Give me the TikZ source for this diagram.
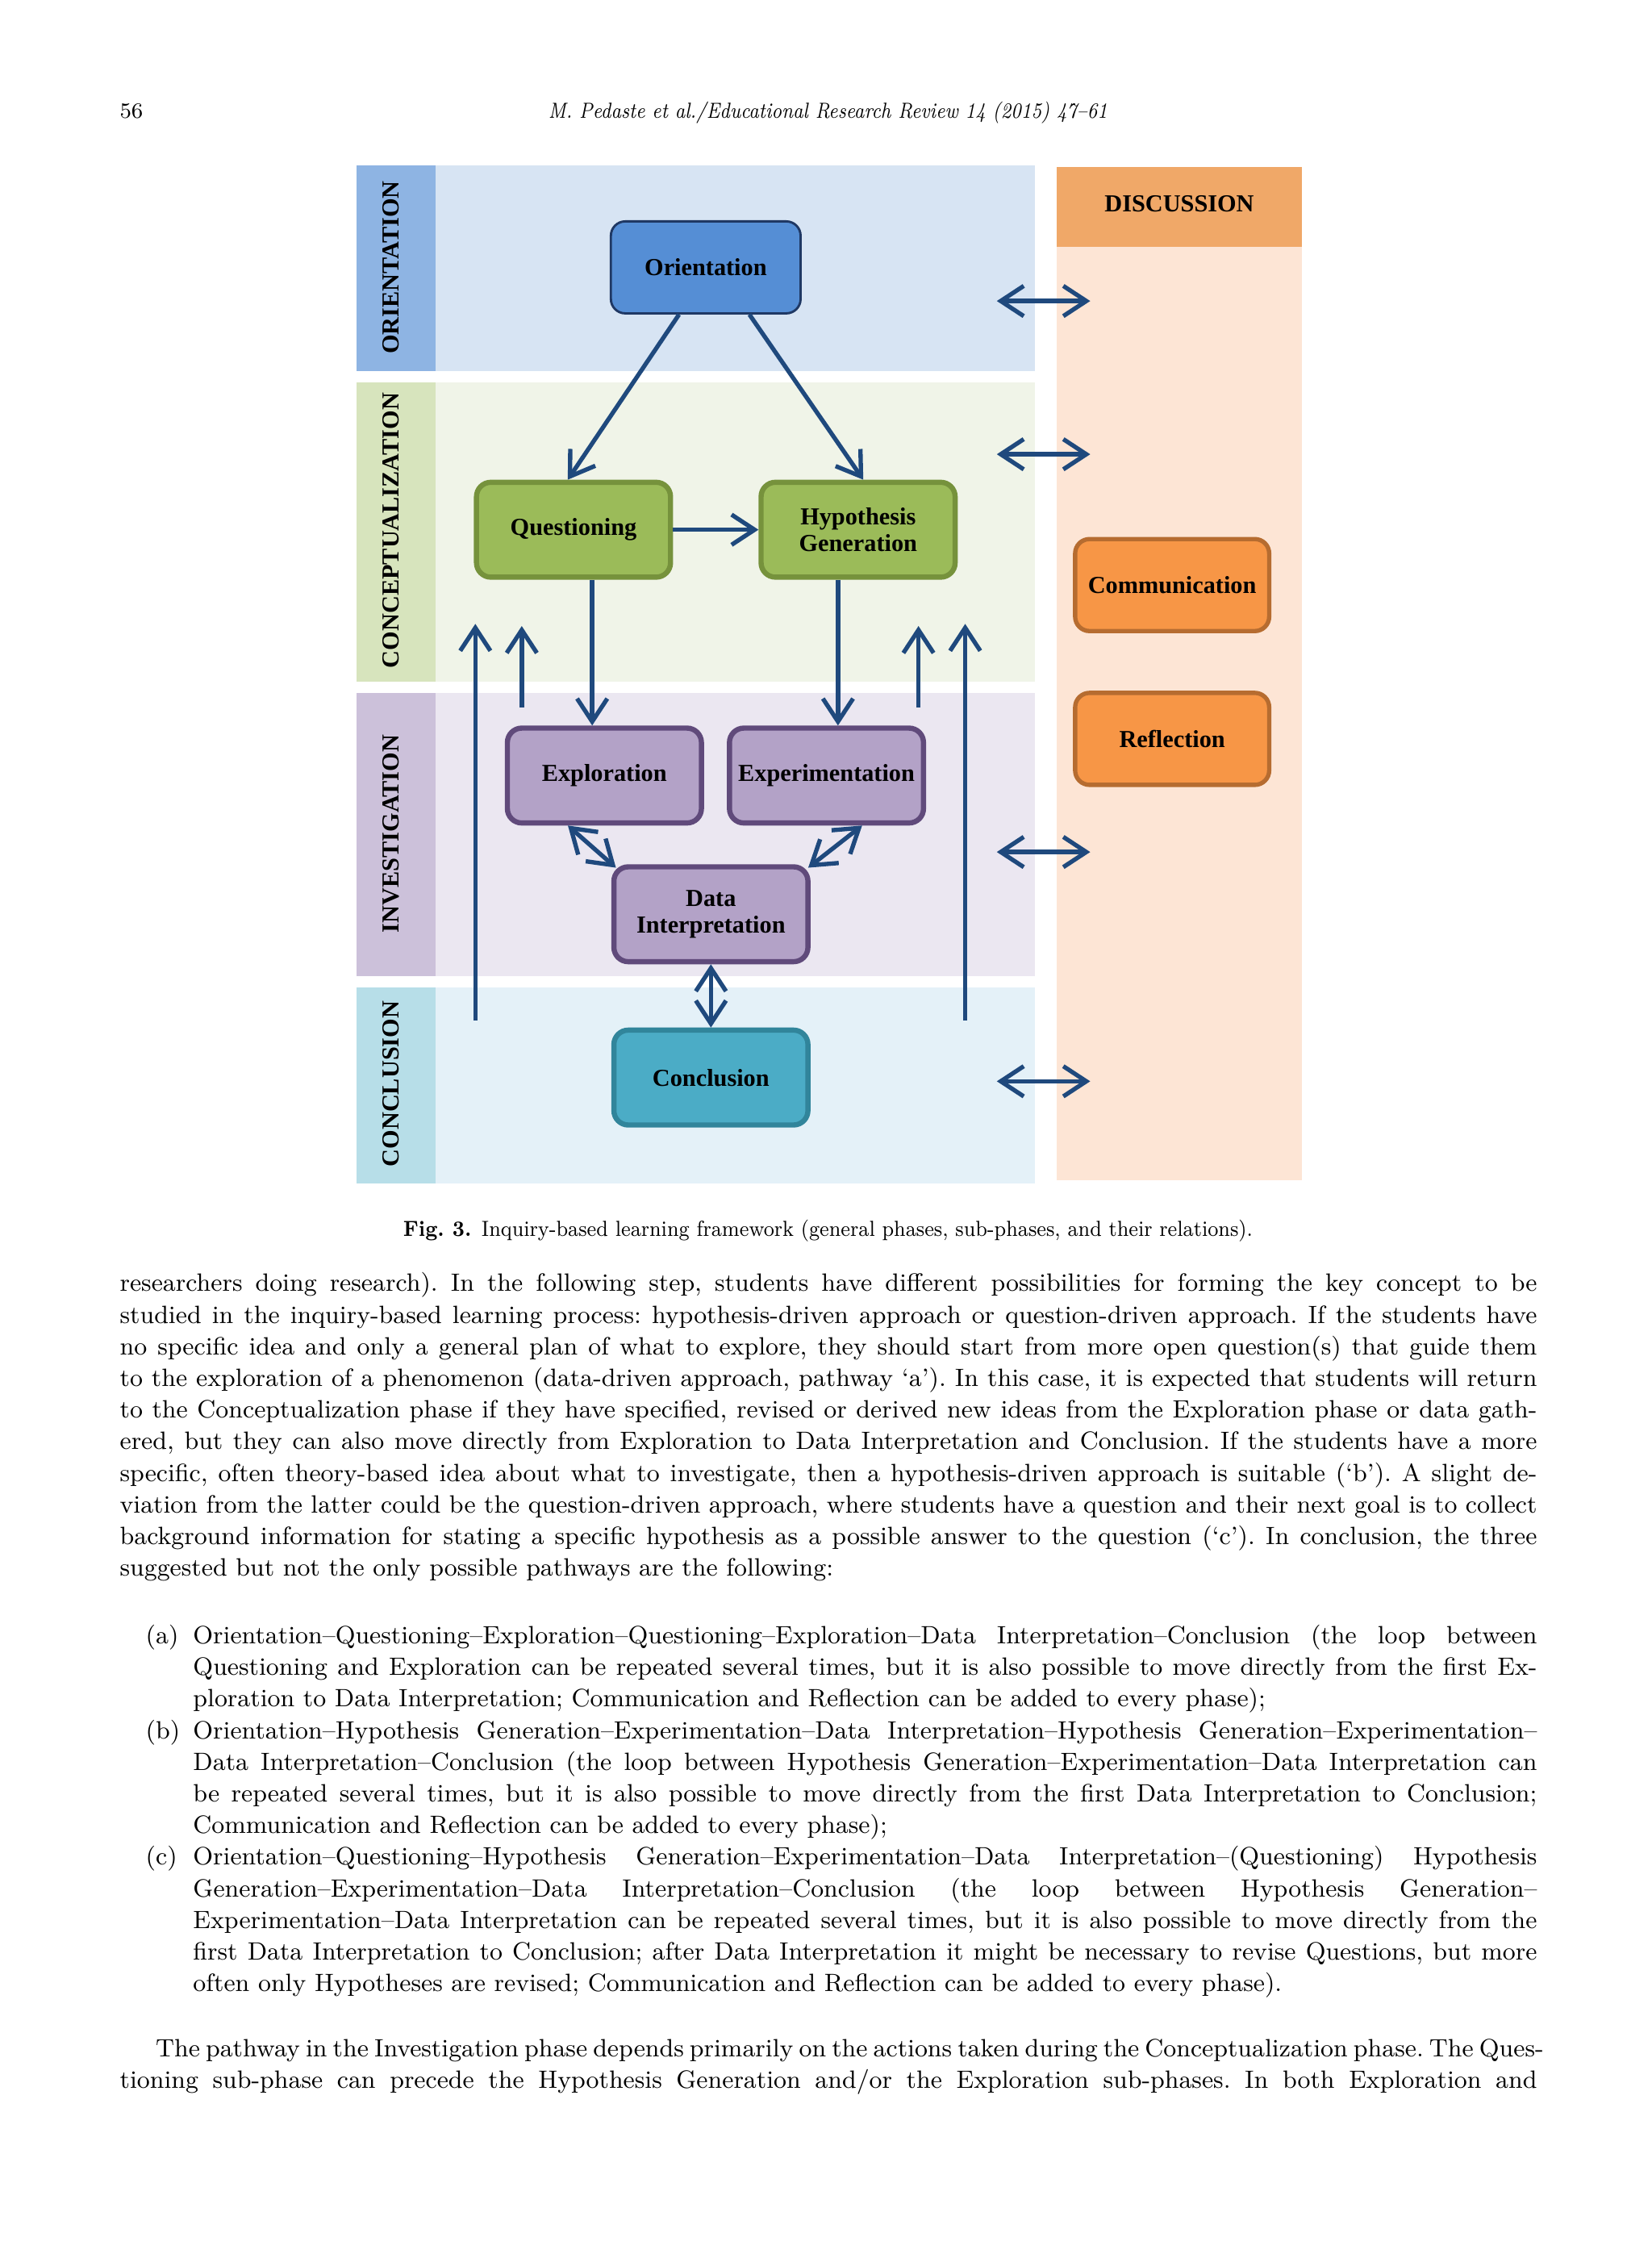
\documentclass[tikz,border=0pt]{standalone}
\usepackage{fontspec}
\newfontfamily\figfont{Liberation Serif}
\usetikzlibrary{arrows.meta}
\frenchspacing

\definecolor{orientside}{RGB}{142,180,227}
\definecolor{orientband}{RGB}{215,228,243}
\definecolor{orientfill}{RGB}{85,142,213}
\definecolor{orientdraw}{RGB}{31,56,100}
\definecolor{conceptside}{RGB}{215,228,189}
\definecolor{conceptband}{RGB}{240,244,232}
\definecolor{conceptfill}{RGB}{155,187,89}
\definecolor{conceptdraw}{RGB}{118,146,60}
\definecolor{investside}{RGB}{204,193,218}
\definecolor{investband}{RGB}{235,231,241}
\definecolor{investfill}{RGB}{179,162,199}
\definecolor{investdraw}{RGB}{96,74,123}
\definecolor{conclside}{RGB}{183,222,232}
\definecolor{conclband}{RGB}{228,241,248}
\definecolor{conclfill}{RGB}{75,172,198}
\definecolor{concldraw}{RGB}{49,133,155}
\definecolor{discusshead}{RGB}{240,168,104}
\definecolor{discussband}{RGB}{253,229,213}
\definecolor{discussfill}{RGB}{247,150,70}
\definecolor{discussdraw}{RGB}{182,108,48}
\definecolor{arrowblue}{RGB}{31,73,125}

% justified text lines
\newcommand{\jl}[2][493pt]{\makebox[#1][s]{#2}}
\newcommand{\pathlabel}[1]{\makebox[16.5pt][l]{#1}}
\newcommand{\pathgap}{\hspace*{16.5pt}}

\tikzset{
  stage/.style={rounded corners=5pt, minimum width=67.5pt, minimum height=33pt,
    inner sep=1pt, align=center, font=\figfont\bfseries\fontsize{8.5}{9.5}\selectfont},
  flow/.style={draw=arrowblue, line width=1.5pt, -{Straight Barb[length=8pt,width=10.5pt]}},
  twoway/.style={flow, {Straight Barb[length=8pt,width=10.5pt]}-{Straight Barb[length=8pt,width=10.5pt]}},
  sidelabel/.style={rotate=90, inner sep=0pt, font=\figfont\bfseries\fontsize{8.5}{9.5}\selectfont},
  bodytext/.style={anchor=north west, inner sep=0pt, align=left, font=\fontsize{8.7}{11}\selectfont},
}

\begin{document}
\begin{tikzpicture}[x=0.5pt, y=-0.5pt]
\useasboundingbox (0,0) rectangle (1149,1568);
\fill[white] (0,0) rectangle (1149,1568);

% running head
\node[anchor=base west, inner sep=0pt, font=\fontsize{7.6}{10}\selectfont] (pageno) at (83,82) {56};
\node[anchor=base, inner sep=0pt, font=\fontsize{7.6}{10}\selectfont\itshape] (runhead) at (576,82)
  {\resizebox{194.5pt}{\height}{M. Pedaste et al./Educational Research Review 14 (2015) 47–61}};

% phase bands
\fill[orientside] (248,115) rectangle (303,258);
\fill[orientband] (303,115) rectangle (720,258);
\fill[conceptside] (248,266) rectangle (303,474);
\fill[conceptband] (303,266) rectangle (720,474);
\fill[investside] (248,482) rectangle (303,679);
\fill[investband] (303,482) rectangle (720,679);
\fill[conclside] (248,687) rectangle (303,823);
\fill[conclband] (303,687) rectangle (720,823);
\fill[discussband] (735,116) rectangle (906,821);
\fill[discusshead] (735,116) rectangle (906,172);

\node[sidelabel] (lblorient) at (272,186) {ORIENTATION};
\node[sidelabel] (lblconcept) at (272,369) {CONCEPTUALIZATION};
\node[sidelabel] (lblinvest) at (272,580) {INVESTIGATION};
\node[sidelabel] (lblconcl) at (272,754) {CONCLUSION};
\node[font=\figfont\bfseries\fontsize{8.5}{9.5}\selectfont] (lbldiscuss) at (820.5,142) {DISCUSSION};

% sub-phases
\node[stage, fill=orientfill, draw=orientdraw, line width=0.8pt, minimum width=66pt, minimum height=32pt] (orient) at (491,186) {Orientation};
\node[stage, fill=conceptfill, draw=conceptdraw, line width=1.8pt] (quest) at (399,368.5) {Questioning};
\node[stage, fill=conceptfill, draw=conceptdraw, line width=1.8pt] (hyp) at (597,368.5) {Hypothesis\\Generation};
\node[stage, fill=investfill, draw=investdraw, line width=1.8pt] (expl) at (420.5,539.5) {Exploration};
\node[stage, fill=investfill, draw=investdraw, line width=1.8pt] (exper) at (575,539.5) {Experimentation};
\node[stage, fill=investfill, draw=investdraw, line width=1.8pt] (data) at (494.6,636) {Data\\Interpretation};
\node[stage, fill=conclfill, draw=concldraw, line width=1.8pt] (concl) at (494.6,749.6) {Conclusion};
\node[stage, fill=discussfill, draw=discussdraw, line width=1.5pt, minimum height=32pt] (commu) at (815.5,407) {Communication};
\node[stage, fill=discussfill, draw=discussdraw, line width=1.5pt, minimum height=32pt] (refl) at (815.5,514) {Reflection};

% relations
\draw[flow] ([xshift=-9.3pt]orient.south) -- ([xshift=-2pt]quest.north);
\draw[flow] ([xshift=15.2pt]orient.south) -- ([xshift=1.8pt]hyp.north);
\draw[flow] (quest.east) -- (hyp.west);
\draw[flow] ([xshift=6.5pt]quest.south) -- ([xshift=6.5pt]quest.south |- expl.north);
\draw[flow] ([xshift=-7pt]hyp.south) -- ([xshift=-7pt]hyp.south |- exper.north);
\draw[twoway] ([xshift=-12.7pt]expl.south) -- ([shift={(1.6pt,-1.2pt)}]data.north west);
\draw[twoway] ([xshift=12.4pt]exper.south) -- ([shift={(-0.8pt,-1.2pt)}]data.north east);
\draw[twoway] (data.south) -- (concl.north);

% returns to conceptualization
\coordinate (backA0) at (330.7,710);
\coordinate (backA1) at (330.7,434);
\coordinate (backB0) at (363,492);
\coordinate (backB1) at (363,435.5);
\coordinate (backC0) at (639,492);
\coordinate (backC1) at (639,435.5);
\coordinate (backD0) at (671.5,710);
\coordinate (backD1) at (671.5,434);
\foreach \k in {A,B,C,D}
  \draw[flow] (back\k0) -- (back\k1);

% links with discussion
\foreach \yy [count=\i] in {209.4,316,592.7,752.2} {
  \coordinate (talkL\i) at (693.5,\yy);
  \coordinate (talkR\i) at (758.5,\yy);
  \draw[twoway] (talkL\i) -- (talkR\i);
}

% caption
\node[anchor=base, inner sep=0pt, font=\fontsize{7.6}{9}\selectfont] (caption) at (576,860)
  {\resizebox{295.5pt}{\height}{\textbf{Fig. 3.}\enspace Inquiry-based learning framework (general phases, sub-phases, and their relations).}};

% body text
\node[bodytext] (para1) at (83,885) {%
\jl{researchers doing research). In the following step, students have different possibilities for forming the key concept to be}\\
\jl{studied in the inquiry-based learning process: hypothesis-driven approach or question-driven approach. If the students have}\\
\jl{no specific idea and only a general plan of what to explore, they should start from more open question(s) that guide them}\\
\jl{to the exploration of a phenomenon (data-driven approach, pathway ‘a’). In this case, it is expected that students will return}\\
\jl{to the Conceptualization phase if they have specified, revised or derived new ideas from the Exploration phase or data gath-}\\
\jl{ered, but they can also move directly from Exploration to Data Interpretation and Conclusion. If the students have a more}\\
\jl{specific, often theory-based idea about what to investigate, then a hypothesis-driven approach is suitable (‘b’). A slight de-}\\
\jl{viation from the latter could be the question-driven approach, where students have a question and their next goal is to collect}\\
\jl{background information for stating a specific hypothesis as a possible answer to the question (‘c’). In conclusion, the three}\\
suggested but not the only possible pathways are the following:};

\node[bodytext] (pathways) at (101,1130) {%
\pathlabel{(a)}\jl[467.5pt]{Orientation–Questioning–Exploration–Questioning–Exploration–Data Interpretation–Conclusion (the loop between}\\
\pathgap\jl[467.5pt]{Questioning and Exploration can be repeated several times, but it is also possible to move directly from the first Ex-}\\
\pathgap ploration to Data Interpretation; Communication and Reflection can be added to every phase);\\
\pathlabel{(b)}\jl[467.5pt]{Orientation–Hypothesis Generation–Experimentation–Data Interpretation–Hypothesis Generation–Experimentation–}\\
\pathgap\jl[467.5pt]{Data Interpretation–Conclusion (the loop between Hypothesis Generation–Experimentation–Data Interpretation can}\\
\pathgap\jl[467.5pt]{be repeated several times, but it is also possible to move directly from the first Data Interpretation to Conclusion;}\\
\pathgap Communication and Reflection can be added to every phase);\\
\pathlabel{(c)}\jl[467.5pt]{Orientation–Questioning–Hypothesis Generation–Experimentation–Data Interpretation–(Questioning) Hypothesis}\\
\pathgap\jl[467.5pt]{Generation–Experimentation–Data Interpretation–Conclusion (the loop between Hypothesis Generation–}\\
\pathgap\jl[467.5pt]{Experimentation–Data Interpretation can be repeated several times, but it is also possible to move directly from the}\\
\pathgap\jl[467.5pt]{first Data Interpretation to Conclusion; after Data Interpretation it might be necessary to revise Questions, but more}\\
\pathgap often only Hypotheses are revised; Communication and Reflection can be added to every phase).};

\node[bodytext] (para2) at (83,1418) {%
\hspace*{12.5pt}\jl[480.5pt]{The pathway in the Investigation phase depends primarily on the actions taken during the Conceptualization phase. The Ques-}\\
\jl{tioning sub-phase can precede the Hypothesis Generation and/or the Exploration sub-phases. In both Exploration and}};
\end{tikzpicture}
\end{document}
